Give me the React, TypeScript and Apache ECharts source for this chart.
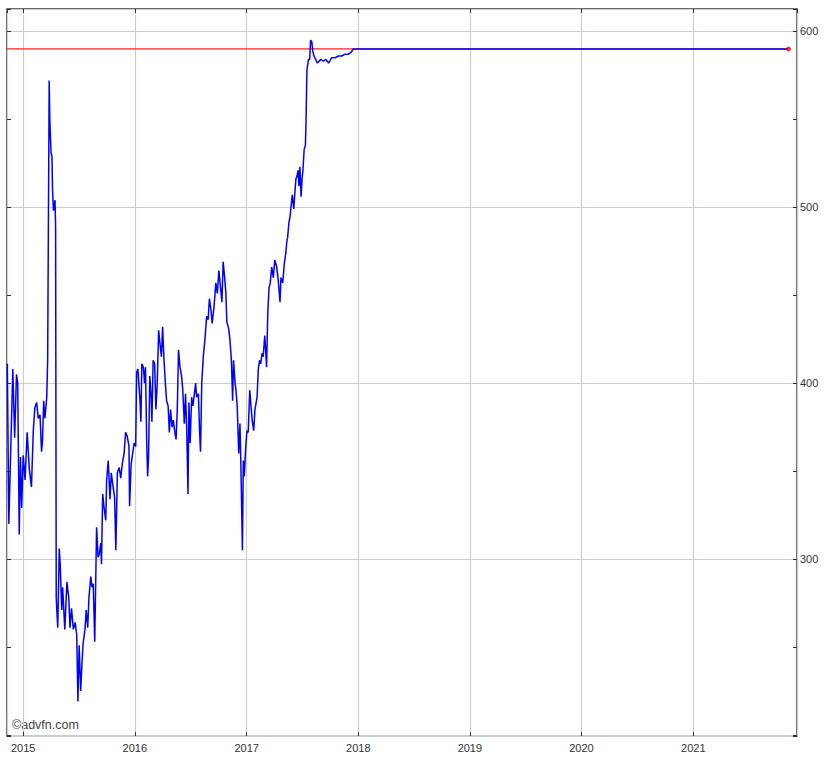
import React, { useEffect, useRef } from 'react';
import * as echarts from 'echarts';

// price history (daily-ish samples), last price carried forward
const dates: string[] = [
    '2014-11-10', '2014-11-15', '2014-11-28', '2014-12-04', '2014-12-10', '2014-12-14', '2014-12-19', '2014-12-23', '2014-12-27',
    '2015-01-01', '2015-01-07', '2015-01-14', '2015-01-21', '2015-01-28', '2015-02-03', '2015-02-08', '2015-02-14', '2015-02-19',
    '2015-02-25', '2015-03-02', '2015-03-05', '2015-03-09', '2015-03-13', '2015-03-19', '2015-03-22', '2015-03-27', '2015-03-29',
    '2015-04-02', '2015-04-05', '2015-04-07', '2015-04-10', '2015-04-15', '2015-04-17', '2015-04-19', '2015-04-24', '2015-04-29',
    '2015-05-02', '2015-05-07', '2015-05-10', '2015-05-17', '2015-05-24', '2015-05-30', '2015-06-03', '2015-06-08', '2015-06-14',
    '2015-06-20', '2015-06-25', '2015-06-29', '2015-07-03', '2015-07-08', '2015-07-12', '2015-07-16', '2015-07-22', '2015-07-26',
    '2015-07-31', '2015-08-04', '2015-08-10', '2015-08-14', '2015-08-18', '2015-08-23', '2015-08-29', '2015-09-03', '2015-09-07',
    '2015-09-12', '2015-09-14', '2015-09-18', '2015-09-22', '2015-09-28', '2015-10-01', '2015-10-06', '2015-10-12', '2015-10-16',
    '2015-10-22', '2015-10-27', '2015-10-31', '2015-11-05', '2015-11-11', '2015-11-16', '2015-11-21', '2015-11-27', '2015-12-02',
    '2015-12-07', '2015-12-13', '2015-12-15', '2015-12-20', '2015-12-25', '2015-12-30',
    '2016-01-04', '2016-01-07', '2016-01-11', '2016-01-15', '2016-01-18', '2016-01-21', '2016-01-24', '2016-01-29', '2016-02-02',
    '2016-02-05', '2016-02-09', '2016-02-12', '2016-02-15', '2016-02-19', '2016-02-23', '2016-02-26', '2016-03-01', '2016-03-06',
    '2016-03-10', '2016-03-14', '2016-03-19', '2016-03-23', '2016-03-28', '2016-04-01', '2016-04-05', '2016-04-10', '2016-04-14',
    '2016-04-19', '2016-04-23', '2016-04-27', '2016-05-02', '2016-05-06', '2016-05-11', '2016-05-15', '2016-05-19', '2016-05-23',
    '2016-05-28', '2016-06-02', '2016-06-06', '2016-06-11', '2016-06-15', '2016-06-19', '2016-06-23', '2016-06-26', '2016-06-30',
    '2016-07-05', '2016-07-09', '2016-07-14', '2016-07-18', '2016-07-21', '2016-07-27', '2016-07-31', '2016-08-03', '2016-08-07',
    '2016-08-12', '2016-08-18', '2016-08-23', '2016-08-28', '2016-09-01', '2016-09-06', '2016-09-10', '2016-09-16', '2016-09-22',
    '2016-09-27', '2016-10-02', '2016-10-07', '2016-10-12', '2016-10-16', '2016-10-21', '2016-10-25', '2016-10-28', '2016-11-03',
    '2016-11-07', '2016-11-12', '2016-11-16', '2016-11-19', '2016-11-24', '2016-11-27', '2016-12-01', '2016-12-06', '2016-12-10',
    '2016-12-13', '2016-12-18', '2016-12-21', '2016-12-24', '2016-12-29',
    '2017-01-02', '2017-01-06', '2017-01-11', '2017-01-15', '2017-01-19', '2017-01-24', '2017-01-28', '2017-02-01', '2017-02-04',
    '2017-02-08', '2017-02-12', '2017-02-16', '2017-02-20', '2017-02-24', '2017-03-01', '2017-03-04', '2017-03-07', '2017-03-11',
    '2017-03-15', '2017-03-19', '2017-03-24', '2017-03-29', '2017-04-03', '2017-04-09', '2017-04-14', '2017-04-20', '2017-04-23',
    '2017-04-29', '2017-05-04', '2017-05-09', '2017-05-12', '2017-05-15', '2017-05-19', '2017-05-23', '2017-05-27', '2017-05-30',
    '2017-06-04', '2017-06-07', '2017-06-11', '2017-06-15', '2017-06-18', '2017-06-21', '2017-06-24', '2017-06-28', '2017-07-01',
    '2017-07-04', '2017-07-08', '2017-07-12', '2017-07-14', '2017-07-17', '2017-07-22', '2017-07-26', '2017-07-29', '2017-08-02',
    '2017-08-05', '2017-08-09', '2017-08-15', '2017-08-20', '2017-08-26', '2017-08-31', '2017-09-09', '2017-09-17', '2017-09-26',
    '2017-10-06', '2017-10-17', '2017-10-28', '2017-11-08', '2017-11-19', '2017-11-29', '2017-12-08', '2017-12-16',
    '2021-11-08'
];

const prices: number[] = [
    411, 320, 408, 369, 405, 400, 314, 358, 329,
    359, 345, 372, 351, 341, 373, 386, 389, 380,
    382, 361, 367, 390, 380, 392, 413, 572, 550,
    531, 529, 510, 498, 504, 489, 278, 261, 306,
    297, 271, 284, 260, 287, 278, 261, 272, 260,
    264, 257, 219, 251, 225, 240, 252, 260, 271,
    261, 278, 290, 284, 286, 253, 318, 301, 303,
    309, 297, 337, 330, 322, 345, 356, 334, 349,
    341, 335, 305, 349, 352, 346, 354, 360, 372,
    370, 364, 330, 354, 360, 366,
    364, 406, 408, 398, 390, 378, 411, 409, 400,
    409, 366, 347, 358, 404, 394, 378, 413, 411,
    385, 398, 430, 423, 415, 432, 415, 400, 390,
    387, 372, 385, 375, 379, 372, 368, 385, 419,
    409, 404, 396, 377, 394, 373, 337, 389, 366,
    392, 387, 394, 400, 392, 394, 372, 361, 400,
    415, 426, 438, 436, 448, 442, 434, 443, 457,
    451, 464, 455, 446, 469, 460, 451, 435, 431,
    425, 413, 390, 413, 400, 396, 387, 360, 377,
    354, 305, 356, 347, 364,
    373, 372, 396, 387, 379, 373, 385, 389, 392,
    408, 413, 411, 417, 415, 427, 419, 409, 440,
    454, 457, 466, 460, 470, 466, 459, 446, 460,
    457, 468, 474, 480, 483, 491, 495, 502, 507,
    499, 507, 516, 518, 521, 512, 523, 506, 516,
    521, 533, 535, 548, 578, 584, 584, 595, 594,
    589, 586, 584, 582, 583, 584, 583, 584, 582,
    585, 585, 586, 586, 587, 587, 588, 590,
    590
];

const xStart = '2014-11-09';
const xEnd = '2021-12-06';
const yMin = 199.4;
const yMax = 612.7;

const FONT = "'Liberation Sans', Arial, sans-serif";

const App: React.FC = () => {
    const chartRef = useRef<HTMLDivElement>(null);

    useEffect(() => {
        document.body.style.margin = '0';
        if (!chartRef.current) return;

        const myChart = echarts.init(chartRef.current, null, { renderer: 'svg' });

        const series = dates.map((d, i) => [d, prices[i]]);
        const lastDate = dates[dates.length - 1];
        const lastPrice = prices[prices.length - 1];

        const yearMs = 365.25 * 24 * 3600 * 1000;

        const option: echarts.EChartsOption = {
            animation: false,
            backgroundColor: '#ffffff',
            grid: {
                left: 7,
                top: 9,
                right: 31,
                bottom: 34,
                show: true,
                borderColor: '#3a3a3a',
                borderWidth: 1.5,
                backgroundColor: '#ffffff'
            },
            xAxis: [
                {
                    type: 'time',
                    min: xStart,
                    max: xEnd,
                    minInterval: yearMs,
                    maxInterval: yearMs,
                    position: 'bottom',
                    axisLine: { show: false },
                    axisTick: { show: true, inside: true, length: 4, lineStyle: { color: '#333' } },
                    axisLabel: {
                        formatter: '{yyyy}',
                        color: '#333',
                        fontSize: 11,
                        fontFamily: FONT,
                        margin: 6
                    },
                    splitLine: { show: true, lineStyle: { color: '#c8cfcc', width: 1.2 } }
                },
                {
                    type: 'time',
                    min: xStart,
                    max: xEnd,
                    minInterval: yearMs,
                    maxInterval: yearMs,
                    position: 'top',
                    axisLine: { show: false },
                    axisTick: { show: true, inside: true, length: 4, lineStyle: { color: '#333' } },
                    axisLabel: { show: false },
                    splitLine: { show: false }
                }
            ],
            yAxis: [
                {
                    type: 'value',
                    position: 'right',
                    min: yMin,
                    max: yMax,
                    axisLine: { show: false },
                    axisTick: { show: true, inside: true, length: 4, lineStyle: { color: '#333' } },
                    minorTick: { show: true, splitNumber: 2, length: 4, lineStyle: { color: '#333' } },
                    axisLabel: {
                        showMinLabel: false,
                        showMaxLabel: false,
                        formatter: (v: number) => (v % 100 === 0 && v > 250 ? String(v) : ''),
                        color: '#333',
                        fontSize: 11,
                        fontFamily: FONT,
                        margin: 3
                    },
                    splitLine: { show: true, lineStyle: { color: '#c8cfcc', width: 1.2 } }
                },
                {
                    type: 'value',
                    position: 'left',
                    min: yMin,
                    max: yMax,
                    axisLine: { show: false },
                    axisTick: { show: true, inside: true, length: 4, lineStyle: { color: '#333' } },
                    minorTick: { show: true, splitNumber: 2, length: 4, lineStyle: { color: '#333' } },
                    axisLabel: { show: false },
                    splitLine: { show: false }
                }
            ],
            graphic: [
                {
                    type: 'text',
                    left: 12,
                    top: 718,
                    style: {
                        text: '©advfn.com',
                        fill: '#444',
                        font: `12.5px ${FONT}`
                    }
                }
            ],
            series: [
                {
                    name: 'last',
                    type: 'line',
                    data: [[xStart, lastPrice], [lastDate, lastPrice]],
                    showSymbol: false,
                    lineStyle: { color: '#ff2020', width: 1.3 },
                    z: 1
                },
                {
                    name: 'price',
                    type: 'line',
                    data: series,
                    showSymbol: false,
                    lineStyle: { color: '#0000ff', width: 1.5 },
                    z: 2
                },
                {
                    name: 'end',
                    type: 'scatter',
                    data: [[lastDate, lastPrice]],
                    symbolSize: 5,
                    itemStyle: { color: '#ff0000' },
                    z: 3
                }
            ]
        };

        myChart.setOption(option);

        return () => {
            myChart.dispose();
        };
    }, []);

    return (
        <div
            ref={chartRef}
            style={{
                width: '828px',
                height: '770px'
            }}
        />
    );
};

export default App;
